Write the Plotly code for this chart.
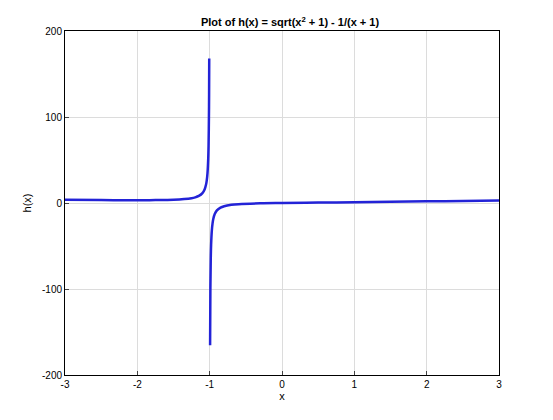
import plotly.graph_objects as go

x_left = [-3, -2.5, -2, -1.75, -1.5, -1.25, -1.2, -1.15, -1.1, -1.07, -1.05, -1.04, -1.03, -1.02, -1.015, -1.01, -1.008, -1.006]
y_left = [3.66, 3.36, 3.24, 3.35, 3.80, 5.60, 6.56, 8.19, 11.49, 15.75, 21.45, 26.44, 34.77, 51.43, 68.09, 101.4, 126.4, 168.1]
x_right = [-0.994, -0.99, -0.985, -0.98, -0.97, -0.96, -0.95, -0.93, -0.9, -0.85, -0.8, -0.7, -0.6, -0.3, 0, 0.5, 1, 1.5, 2, 2.5, 3]
y_right = [-165.3, -98.6, -65.3, -48.6, -31.9, -23.6, -18.6, -12.92, -8.65, -5.35, -3.72, -2.11, -1.33, -0.385, 0, 0.45, 0.91, 1.40, 1.90, 2.41, 2.91]

x_ticks = [-3, -2, -1, 0, 1, 2, 3]
x_labels = ["-3", "-2", "-1", "0", "1", "2", "3"]
y_ticks = [-200, -100, 0, 100, 200]
y_labels = ["-200", "-100", "0", "100", "200"]

fig = go.Figure()
for xs, ys in [(x_left, y_left), (x_right, y_right)]:
    fig.add_trace(go.Scatter(x=xs, y=ys, mode="lines", line_shape="spline",
                             line=dict(color="rgb(35,35,215)", width=2.5), showlegend=False))

ax = dict(showline=True, mirror=True, linecolor="black", linewidth=1,
          gridcolor="rgb(220,220,220)", zeroline=False, ticks="inside", ticklen=4,
          tickfont=dict(size=10, color="black"))
fig.update_layout(
    width=553, height=420, plot_bgcolor="white", paper_bgcolor="white",
    font=dict(family="Liberation Sans, Arial, sans-serif", size=10, color="black"),
    margin=dict(l=57, r=62, t=23, b=53),
    title=dict(text="<b>Plot of h(x) = sqrt(x<sup>2</sup> + 1) - 1/(x + 1)</b>", x=0.51, xanchor="center",
               y=0.975, font=dict(size=11)),
    xaxis=dict(ax, range=[-3, 3], tickvals=x_ticks, ticktext=x_labels,
               title=dict(text="x", standoff=2, font=dict(size=11))),
    yaxis=dict(ax, range=[-200, 200], tickvals=y_ticks, ticktext=y_labels,
               title=dict(text="h(x)", standoff=8, font=dict(size=11))),
)
fig.write_html("out.html")
